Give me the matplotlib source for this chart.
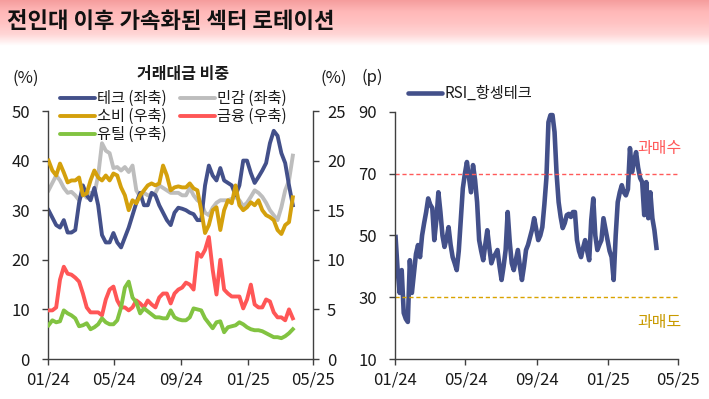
import numpy as np
import pandas as pd
import matplotlib
matplotlib.use('Agg')
import matplotlib.pyplot as plt
from matplotlib.lines import Line2D
from matplotlib.colors import LinearSegmentedColormap

plt.rcParams['font.family'] = ['Noto Sans CJK KR', 'DejaVu Sans']

# ---------------- data ----------------
weeks = pd.date_range('2024-01-02', periods=65, freq='7D')

tech = [30, 28.5, 27, 26.5, 28, 25.5, 25.5, 26, 31.5, 35, 33, 32, 34.5, 31, 25, 23.5,
        23.5, 25.4, 23.5, 22.5, 24.5, 26.5, 29, 31.5, 33.5, 31, 31, 33.5, 33, 31, 29.5, 28,
        27, 29.5, 30.5, 30.3, 30, 29.5, 29.2, 28, 28, 35, 39, 37, 36, 38.5, 36, 35.5,
        35, 33, 35, 40, 40, 37.5, 35.5, 36.7, 38, 39.5, 43.5, 46, 45, 41.5, 39.5, 35, 31]

sensitive = [34, 35.5, 37, 36, 34.5, 33.5, 33.7, 33, 32, 33.5, 32.5, 33.5, 33.3, 37, 43.5, 42,
             41.5, 38.5, 38.7, 38, 38.7, 37.7, 39, 34, 32.7, 33.5, 33, 33, 33.5, 35, 34.5, 34,
             33.5, 33.5, 33.5, 33, 33, 34.5, 33, 32, 31.5, 29.5, 29, 30.5, 31.5, 32, 32, 32,
             32.3, 32.7, 32, 30.8, 31.5, 32.7, 34, 33.5, 32.7, 31.5, 30, 29, 28, 30.6, 34, 36, 41]

consumer = [20, 19, 18.5, 19.7, 18.8, 17.8, 18, 18, 18.3, 16.5, 16.7, 18, 19, 18.3, 18, 18.5,
            18, 18.7, 18.5, 17.3, 16.5, 15, 16, 15.7, 16.5, 17, 17.5, 17.7, 17.5, 17.7, 19.5, 18.5,
            17, 17.3, 17.4, 17.3, 17.3, 17.7, 17.2, 17, 15, 12.7, 13.5, 15, 15.3, 13, 15, 16,
            15.7, 17.5, 15.5, 15, 15.3, 15.8, 15.5, 16, 15, 14.5, 14.3, 14, 13, 12.6, 13.5, 13.8, 16.3]

finance = [4.9, 4.9, 5.2, 8, 9.3, 8.6, 8.5, 8.2, 7.8, 6.6, 5.2, 4.7, 4.7, 4.7, 4.4, 6,
           7, 7.3, 5.9, 5.2, 5.2, 4.9, 5.2, 5.9, 5.6, 5.2, 5.9, 5.5, 5.2, 6.2, 6.6, 6.6,
           5.6, 6.6, 7, 7.2, 7.7, 7.5, 7, 10.7, 10.3, 11, 12.3, 9, 6.5, 10, 7, 6.6,
           6.3, 6.3, 6.3, 5.1, 6, 7.5, 5.5, 5.2, 5.2, 6, 5.8, 4.7, 4.2, 4.2, 3.9, 5, 4.1]

utility = [3.4, 3.9, 3.7, 3.8, 4.9, 4.6, 4.4, 4.1, 3.3, 3.4, 3.6, 3.0, 3.2, 3.5, 4.1, 3.7,
           3.5, 3.5, 3.9, 5.2, 7.2, 7.8, 6.2, 5.7, 4.6, 5.1, 4.8, 4.5, 4.2, 4.2, 4.1, 4.1,
           4.9, 4.2, 4.0, 3.9, 3.9, 4.2, 5.1, 5.0, 4.9, 4.1, 3.6, 3.1, 3.7, 3.8, 2.7, 3.2,
           3.3, 3.4, 3.7, 3.5, 3.2, 3.0, 2.9, 2.9, 2.8, 2.6, 2.4, 2.2, 2.2, 2.1, 2.3, 2.6, 3.0]

rsi_dates = pd.date_range('2024-01-02', periods=129, freq='84h')
rsi = [49.5, 38.8, 31.4, 38.8, 24.9, 23, 22, 42, 31.4, 37.8, 44, 46.9, 43, 50, 54, 57.6,
       62, 60, 58.9, 48.5, 55, 64, 57.6, 50, 46.3, 49, 52.7, 47, 43, 41, 38.8, 45,
       55, 65.3, 70, 73.8, 69, 64, 72.8, 68, 60.8, 48.5, 45, 42, 47, 51.7, 46, 41,
       43, 44, 45.3, 40, 35.6, 40, 45.3, 57.6, 48, 41, 38.8, 42, 45.3, 40, 35.6, 40,
       45.3, 47, 49.5, 52, 55.6, 52, 48.5, 50, 52.7, 60, 68.6, 86.7, 89, 89, 83.5, 70,
       60.8, 56, 52.4, 54, 56.6, 57, 56, 57.6, 57.6, 48.5, 45, 43, 46, 48.5, 45, 42,
       55, 62, 50, 45.3, 47, 48.5, 55.6, 52, 48.5, 45, 43, 35.6, 50, 60.8, 64, 66.3,
       64, 63, 65, 78.3, 70.5, 74, 77, 72, 68.6, 67.3, 56.6, 67.3, 55.6, 64, 55.6, 51.7, 46]

overbought, oversold = 70, 30

x_ticks = pd.to_datetime(['2024-01-01', '2024-05-01', '2024-09-01', '2025-01-01', '2025-05-01'])
x_labels = ['01/24', '05/24', '09/24', '01/25', '05/25']

# ---------------- style ----------------
C_NAVY = '#43508a'
C_GRAY = '#bdbdbd'
C_GOLD = '#d4a00c'
C_RED = '#ff5656'
C_GREEN = '#82c341'
SPINE = '#404040'
LW = 2.8
TICK_FS = 12
LEG_FS = 11

W, H = 709, 399
fig = plt.figure(figsize=(W / 100, H / 100), dpi=100)


def fx(px):
    return px / W


def fy(py):
    return 1 - py / H


# title banner
bax = fig.add_axes([0, fy(46), 1, 46 / H])
cmap = LinearSegmentedColormap.from_list('b', ['#f59d9d', '#ffb8b8', '#ffc3c3', '#ffd6d6', '#ffffff'])
grad = np.linspace(0, 1, 100).reshape(-1, 1)
bax.imshow(grad, aspect='auto', cmap=cmap, extent=[0, 1, 0, 1], origin='upper')
bax.axis('off')
fig.text(fx(7), fy(22), '전인대 이후 가속화된 섹터 로테이션', fontsize=16,
         fontweight='bold', color='#111111', va='center', ha='left')


def style_ax(ax, sides):
    for s in ['top', 'right', 'left', 'bottom']:
        ax.spines[s].set_visible(s in sides)
        ax.spines[s].set_color(SPINE)
        ax.spines[s].set_linewidth(1.0)
    ax.tick_params(axis='both', direction='out', length=4, width=1.0, color=SPINE,
                   labelsize=TICK_FS, labelcolor='#1a1a1a')


# ---------------- left chart ----------------
ax1 = fig.add_axes([fx(48), fy(359), fx(313) - fx(48), (359 - 111) / H])
ax2 = ax1.twinx()
ax1.plot(weeks, sensitive, color=C_GRAY, lw=LW, solid_joinstyle='round')
ax1.plot(weeks, tech, color=C_NAVY, lw=LW, solid_joinstyle='round')
ax2.plot(weeks, consumer, color=C_GOLD, lw=LW, solid_joinstyle='round')
ax2.plot(weeks, finance, color=C_RED, lw=LW, solid_joinstyle='round')
ax2.plot(weeks, utility, color=C_GREEN, lw=LW, solid_joinstyle='round')
ax1.set_ylim(0, 50)
ax1.set_yticks([0, 10, 20, 30, 40, 50])
ax2.set_ylim(0, 25)
ax2.set_yticks([0, 5, 10, 15, 20, 25])
ax1.set_xlim(x_ticks[0], x_ticks[-1])
ax1.set_xticks(x_ticks)
ax1.set_xticklabels(x_labels)
style_ax(ax1, ['left', 'bottom'])
style_ax(ax2, ['right'])
ax2.spines['left'].set_visible(False)
ax2.spines['bottom'].set_visible(False)
ax1.tick_params(axis='y', pad=9)
ax1.tick_params(axis='x', pad=5)
ax2.tick_params(axis='y', pad=6)

fig.text(fx(26), fy(78), '(%)', fontsize=12, ha='center', va='center', color='#1a1a1a')
fig.text(fx(334), fy(78), '(%)', fontsize=12, ha='center', va='center', color='#1a1a1a')
fig.text(fx(183), fy(74), '거래대금 비중', fontsize=11.5, fontweight='bold',
         ha='center', va='center', color='#1a1a1a')

legend_items = [
    (60, 98, C_NAVY, '테크 (좌축)'),
    (60, 116, C_GOLD, '소비 (우축)'),
    (60, 134, C_GREEN, '유틸 (우축)'),
    (180, 98, C_GRAY, '민감 (좌축)'),
    (180, 116, C_RED, '금융 (우축)'),
]
for x0, y0, c, lab in legend_items:
    fig.add_artist(Line2D([fx(x0), fx(x0 + 35)], [fy(y0), fy(y0)], color=c, lw=LW,
                          transform=fig.transFigure, solid_capstyle='round'))
    fig.text(fx(x0 + 37), fy(y0), lab, fontsize=LEG_FS, ha='left', va='center', color='#1a1a1a')

# ---------------- right chart ----------------
ax3 = fig.add_axes([fx(395), fy(359), fx(678) - fx(395), (359 - 112) / H])
ax3.plot(rsi_dates, rsi, color=C_NAVY, lw=LW + 0.5, solid_joinstyle='round')
ax3.axhline(overbought, color='#ff5a5a', lw=1.0, ls=(0, (3, 2)))
ax3.axhline(oversold, color='#d9a300', lw=1.0, ls=(0, (3, 2)))
ax3.set_ylim(10, 90)
ax3.set_yticks([10, 30, 50, 70, 90])
ax3.set_xlim(x_ticks[0], x_ticks[-1])
ax3.set_xticks(x_ticks)
ax3.set_xticklabels(x_labels)
style_ax(ax3, ['left', 'bottom'])
ax3.tick_params(axis='y', pad=9)
ax3.tick_params(axis='x', pad=5)
ytr = ax3.get_yaxis_transform()
ax3.text(0.936, 78.3, '과매수', transform=ytr, fontsize=11.5, color='#ff5a5a',
         ha='center', va='center')
ax3.text(0.936, 21.7, '과매도', transform=ytr, fontsize=11.5, color='#c89a00',
         ha='center', va='center')

fig.text(fx(372), fy(77), '(p)', fontsize=12, ha='center', va='center', color='#1a1a1a')
fig.add_artist(Line2D([fx(408), fx(442)], [fy(93), fy(93)], color=C_NAVY, lw=LW + 0.5,
                      transform=fig.transFigure, solid_capstyle='round'))
fig.text(fx(444), fy(93), 'RSI_항셍테크', fontsize=11, ha='left', va='center', color='#1a1a1a')

fig.savefig('out.png', dpi=100)
